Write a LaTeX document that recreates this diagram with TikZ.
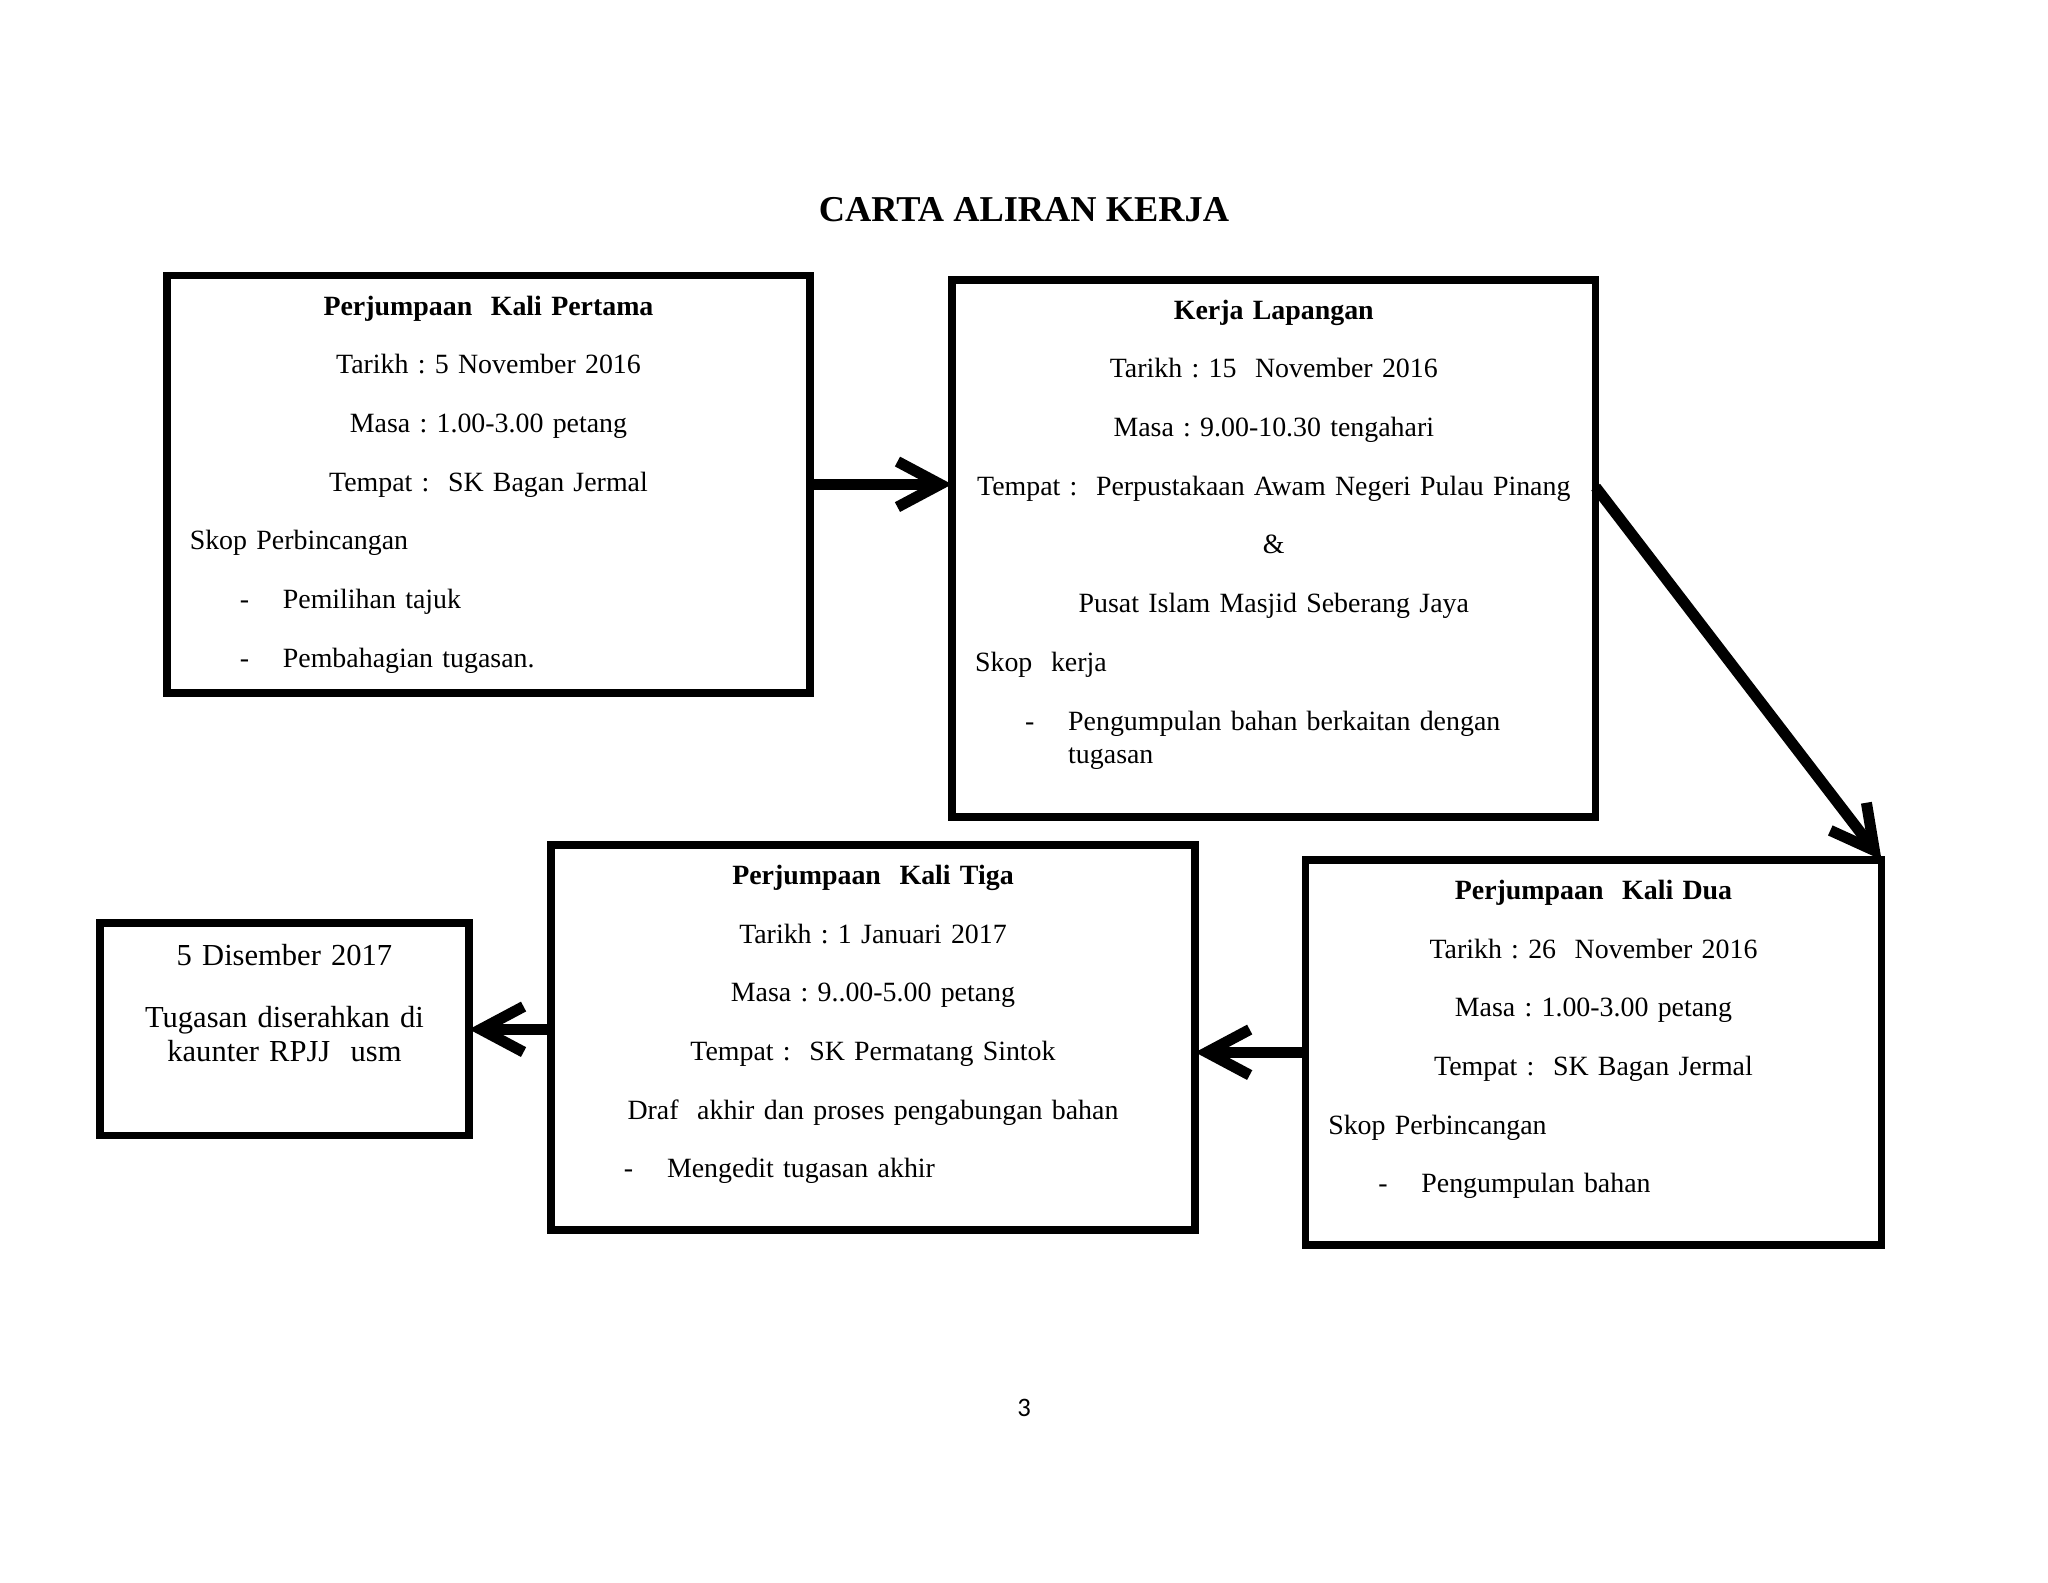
\documentclass[tikz,border=0pt]{standalone}
\usepackage{fontspec}
\setmainfont{Liberation Serif}
\newfontfamily\nomor{Carlito}
\usetikzlibrary{arrows.meta}
\frenchspacing

\newcommand{\butir}[1]{\hspace*{0.725cm}\makebox[0.625cm][l]{-}#1}

\begin{document}
\begin{tikzpicture}[x=0.0145cm,y=-0.0145cm,
    kotak/.style={draw=black,line width=0.11cm,rectangle,inner sep=0pt,outer sep=0pt},
    isi/.style={anchor=north,inner sep=0pt,yshift=0.03cm,
        font=\fontsize{11.5}{24.2}\selectfont,
        execute at begin node=\setlength{\parindent}{0pt}},
    panah/.style={line width=0.16cm,
        -{Straight Barb[length=0.62cm,width=0.66cm,sharp]}}]
    \useasboundingbox (0,0) rectangle (2048,1582);

    \node[font=\bfseries\fontsize{15}{18}\selectfont,anchor=base] (judul) at (1024,221) {CARTA ALIRAN KERJA};

    \node[kotak,minimum width=9.32cm,minimum height=6.05cm] (pertama) at (488.5,484.3) {};
    \node[kotak,minimum width=9.33cm,minimum height=7.79cm] (lapangan) at (1273.8,548.5) {};
    \node[kotak,minimum width=8.35cm,minimum height=5.58cm] (kedua) at (1593.5,1052.3) {};
    \node[kotak,minimum width=9.34cm,minimum height=5.58cm] (ketiga) at (873,1037.4) {};
    \node[kotak,minimum width=5.35cm,minimum height=3.08cm] (akhir) at (284.5,1029.3) {};

    \node[isi,text width=8.66cm] (pertama-isi) at (pertama.north) {%
        {\centering\strut\textbf{Perjumpaan\ \ Kali Pertama}\\
        Tarikh : 5 November 2016\\
        Masa : 1.00-3.00 petang\\
        Tempat :\ \ SK Bagan Jermal\par}
        \raggedright Skop Perbincangan\\
        \butir{Pemilihan tajuk}\\
        \butir{Pembahagian tugasan.}\par};

    \node[isi,text width=8.66cm] (lapangan-isi) at (lapangan.north) {%
        {\centering\strut\textbf{Kerja Lapangan}\\
        Tarikh : 15\ \ November 2016\\
        Masa : 9.00-10.30 tengahari\\
        \makebox[\linewidth][c]{Tempat :\ \ Perpustakaan Awam Negeri Pulau Pinang}\\
        \&\\
        Pusat Islam Masjid Seberang Jaya\par}
        \raggedright Skop\ \ kerja\\
        \butir{Pengumpulan bahan berkaitan dengan}\\[-10.2pt]
        \hspace*{1.35cm}tugasan\par};

    \node[isi,text width=7.69cm] (kedua-isi) at (kedua.north) {%
        {\centering\strut\textbf{Perjumpaan\ \ Kali Dua}\\
        Tarikh : 26\ \ November 2016\\
        Masa : 1.00-3.00 petang\\
        Tempat :\ \ SK Bagan Jermal\par}
        \raggedright Skop Perbincangan\\
        \butir{Pengumpulan bahan}\par};

    \node[isi,text width=8.67cm] (ketiga-isi) at (ketiga.north) {%
        {\centering\strut\textbf{Perjumpaan\ \ Kali Tiga}\\
        Tarikh : 1 Januari 2017\\
        Masa : 9..00-5.00 petang\\
        Tempat :\ \ SK Permatang Sintok\\
        Draf\ \ akhir dan proses pengabungan bahan\par}
        \raggedright\butir{Mengedit tugasan akhir}\par};

    \node[isi,text width=4.68cm,yshift=-0.292cm,font=\fontsize{12.6}{14.1}\selectfont] (akhir-isi) at (akhir.north) {%
        \centering\strut 5 Disember 2017\\[11.5pt]
        Tugasan diserahkan di\\
        kaunter RPJJ\ \ usm\par};

    \node[font=\nomor\fontsize{11}{13}\selectfont,anchor=base] (halaman) at (1024,1416) {3};

    \draw[panah] (pertama.east) -- (pertama.east -| lapangan.west);
    \draw[panah] ([yshift=0.89cm]lapangan.east) -- (kedua.north east);
    \draw[panah] (kedua.west) -- (kedua.west -| ketiga.east);
    \draw[panah] (akhir.east -| ketiga.west) -- (akhir.east);
\end{tikzpicture}
\end{document}
